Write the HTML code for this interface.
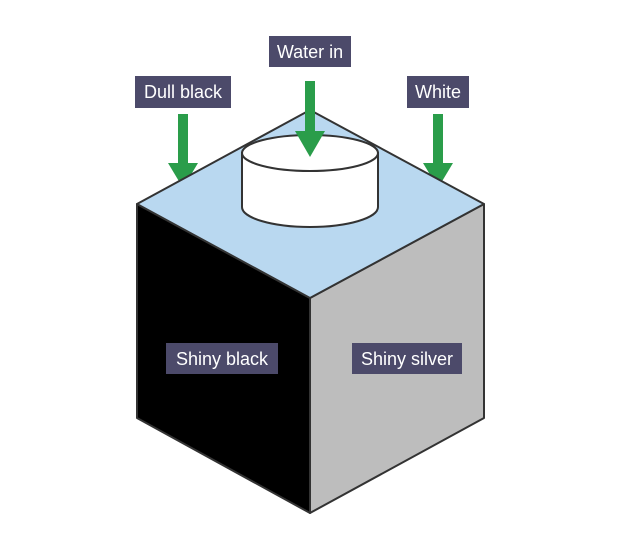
<!DOCTYPE html>
<html>
<head>
<meta charset="utf-8">
<style>
html,body{margin:0;padding:0;background:#fff;}
svg{display:block;}
text{font-family:"Liberation Sans",sans-serif;font-size:18px;fill:#ffffff;}
</style>
</head>
<body>
<svg width="624" height="550" viewBox="0 0 624 550" xmlns="http://www.w3.org/2000/svg">
  <!-- side arrows (behind cube) -->
  <rect x="178" y="114" width="10" height="50" fill="#2a9d4a"/>
  <polygon points="168,163 198,163 183,188" fill="#2a9d4a"/>
  <rect x="433" y="114" width="10" height="50" fill="#2a9d4a"/>
  <polygon points="423,163 453,163 438,188" fill="#2a9d4a"/>

  <!-- cube -->
  <polygon points="137,204 310,298 310,513 137,418" fill="#000000" stroke="#333333" stroke-width="2" stroke-linejoin="round"/>
  <polygon points="310,298 484,204 484,418 310,513" fill="#bdbdbd" stroke="#333333" stroke-width="2" stroke-linejoin="round"/>
  <polygon points="310,110 484,204 310,298 137,204" fill="#b9d8f0" stroke="#333333" stroke-width="2" stroke-linejoin="round"/>

  <!-- cylinder -->
  <path d="M242,153 L242,207 A68,20 0 0 0 378,207 L378,153 Z" fill="#ffffff" stroke="#333333" stroke-width="2"/>
  <ellipse cx="310" cy="153" rx="68" ry="18" fill="#ffffff" stroke="#333333" stroke-width="2"/>

  <!-- water in arrow -->
  <rect x="305" y="81" width="10" height="51" fill="#2a9d4a"/>
  <polygon points="295,131 325,131 310,157" fill="#2a9d4a"/>

  <!-- labels -->
  <rect x="269" y="36" width="82" height="31" fill="#4c4a6a"/>
  <text x="310" y="58" text-anchor="middle">Water in</text>

  <rect x="135" y="76" width="96" height="32" fill="#4c4a6a"/>
  <text x="183" y="98" text-anchor="middle">Dull black</text>

  <rect x="407" y="76" width="62" height="32" fill="#4c4a6a"/>
  <text x="438" y="98" text-anchor="middle">White</text>

  <rect x="166" y="343" width="112" height="31" fill="#4c4a6a"/>
  <text x="222" y="365" text-anchor="middle">Shiny black</text>

  <rect x="352" y="343" width="110" height="31" fill="#4c4a6a"/>
  <text x="407" y="365" text-anchor="middle">Shiny silver</text>
</svg>
</body>
</html>
